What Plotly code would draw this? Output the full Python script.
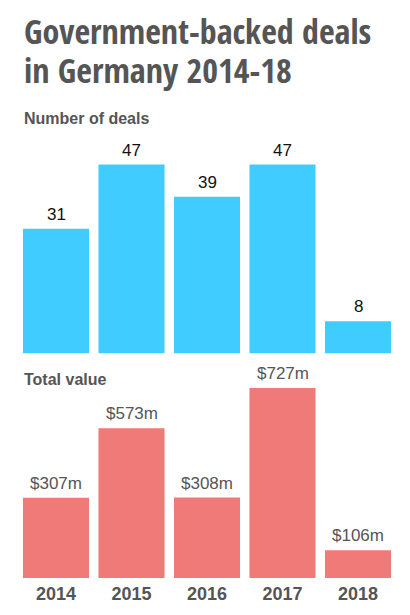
import plotly.graph_objects as go

years = ["2014", "2015", "2016", "2017", "2018"]
deals = [31, 47, 39, 47, 8]
value = [307, 573, 308, 727, 106]
value_labels = ["$307m", "$573m", "$308m", "$727m", "$106m"]

# page body has an 8px margin, so the figure is drawn 8px in from the corner
W, H = 402, 607
LABEL_FONT = "Arial, Liberation Sans, sans-serif"


def py(px_y):
    # pixel from top of figure -> paper coordinate
    return 1 - px_y / H


fig = go.Figure()

fig.add_trace(go.Bar(
    x=years, y=deals,
    marker=dict(color="#40CCFF", line=dict(width=0)),
    xaxis="x", yaxis="y", hoverinfo="skip",
))
fig.add_trace(go.Bar(
    x=years, y=value,
    marker=dict(color="#F07A78", line=dict(width=0)),
    xaxis="x2", yaxis="y2", hoverinfo="skip",
))

# value labels above the bars (x = category index on the category axis)
for i, d in enumerate(deals):
    fig.add_annotation(x=i, y=d, xref="x", yref="y", text=str(d),
                       yanchor="bottom", yshift=3, showarrow=False,
                       font=dict(family=LABEL_FONT, size=17, color="#111"))
for i, (v, lab) in enumerate(zip(value, value_labels)):
    fig.add_annotation(x=i, y=v, xref="x2", yref="y2", text=lab,
                       yanchor="bottom", yshift=3, showarrow=False,
                       font=dict(family=LABEL_FONT, size=17, color="#555"))

fig.update_layout(
    width=W, height=H,
    margin=dict(l=0, r=0, t=0, b=0, autoexpand=False),
    paper_bgcolor="white", plot_bgcolor="white",
    showlegend=False, bargap=0.125,
    xaxis=dict(type="category", domain=[10.25 / W, 387.75 / W], anchor="y",
               range=[-0.5, 4.5],
               showticklabels=False, showgrid=False, zeroline=False, ticks=""),
    yaxis=dict(domain=[py(345.5), py(132)], range=[0, 47 * 213.5 / 189],
               visible=False),
    xaxis2=dict(type="category", domain=[10.25 / W, 387.75 / W], anchor="y2",
                range=[-0.5, 4.5],
                showgrid=False, zeroline=False, ticks="", ticklabelstandoff=3,
                tickfont=dict(family=LABEL_FONT, size=18,
                              color="#555", weight="bold")),
    yaxis2=dict(domain=[py(570), py(362)], range=[0, 727 * 208 / 190],
                visible=False),
)

title_font = dict(family="Open Sans Condensed, Roboto Condensed, DejaVu Sans Condensed",
                  size=34, color="#555", weight="bold")
for txt, yc in [("Government-backed deals", 23), ("in Germany 2014-18", 62)]:
    fig.add_annotation(text=txt, xref="paper", yref="paper", x=14 / W, y=py(yc),
                       xanchor="left", yanchor="middle", showarrow=False,
                       font=title_font)

for txt, yc in [("Number of deals", 110), ("Total value", 371)]:
    fig.add_annotation(text=txt, xref="paper", yref="paper",
                       x=14 / W, y=py(yc), xanchor="left", yanchor="middle",
                       showarrow=False,
                       font=dict(family=LABEL_FONT, size=16, color="#555",
                                 weight="bold"))

fig.write_html("out.html")
